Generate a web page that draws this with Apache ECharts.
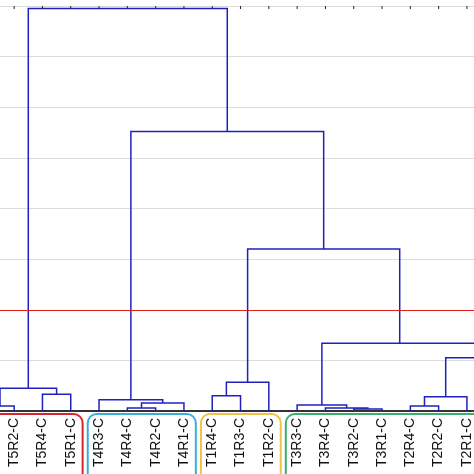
<!DOCTYPE html>
<html><head><meta charset="utf-8">
<script src="https://cdn.jsdelivr.net/npm/echarts@6/dist/echarts.min.js"></script>
<style>html,body{margin:0;padding:0;background:#fff}#c{width:474px;height:474px}</style>
</head><body><div id="c"></div>
<script>
// leaf names; leaf i sits at x = i - 1
const leafNames = ["T5R3-C","T5R2-C","T5R4-C","T5R1-C","T4R3-C","T4R4-C","T4R2-C","T4R1-C","T1R4-C","T1R3-C","T1R2-C","T3R3-C","T3R4-C","T3R2-C","T3R1-C","T2R4-C","T2R2-C","T2R1-C","T2R3-C","T2R5-C"];
// merges: [childA, childB, height]; 'L'+i leaf, 'N'+j merge
const merges = [
  ["L0","L1",0.10],["L2","L3",0.33],["N0","N1",0.45],
  ["L5","L6",0.06],["N3","L7",0.16],["L4","N4",0.22],
  ["L8","L9",0.30],["N6","L10",0.57],
  ["L13","L14",0.04],["L12","N8",0.06],["L11","N9",0.12],
  ["L15","L16",0.10],["N11","L17",0.28],["L18","L19",0.20],
  ["N12","N13",1.05],["N10","N14",1.34],["N7","N15",3.20],
  ["N5","N16",5.52],["N2","N17",7.95]
];
const groups = [[0,3,0],[4,7,1],[8,10,2],[11,19,3]];
const groupColors = ["#d7262b","#3aaed8","#eec24a","#3cae6e"];
const cutHeight = 2;

const pos = {}, hgt = {};
leafNames.forEach((n,i)=>{pos['L'+i]=i-1;hgt['L'+i]=0;});
const linkData = merges.map((m,j)=>{
  const a=m[0],b=m[1];
  pos['N'+j]=(pos[a]+pos[b])/2; hgt['N'+j]=m[2];
  return [pos[a],hgt[a],pos[b],hgt[b],m[2]];
});
const leafData = leafNames.map((n,i)=>[i-1,i]);
const tickData = [];
for(let i=0;i<=16;i++) tickData.push([i]);

const chart = echarts.init(document.getElementById('c'));
chart.setOption({
  animation:false,
  grid:{left:0,right:0,top:6,bottom:63},
  xAxis:[
    {type:'value',min:-0.5,max:16.25,position:'top',axisLine:{lineStyle:{color:'#222',width:1.5}},axisTick:{show:false},axisLabel:{show:false},splitLine:{show:false}},
    {type:'value',min:-0.5,max:16.25,position:'bottom',axisLine:{lineStyle:{color:'#333',width:2}},axisTick:{show:false},axisLabel:{show:false},splitLine:{show:false}}
  ],
  yAxis:{type:'value',min:0,max:8,interval:1,axisLine:{show:false},axisTick:{show:false},axisLabel:{show:false},
    splitLine:{lineStyle:{color:'#dcdcdc',type:'solid'}}},
  series:[
    {type:'custom',clip:true,data:linkData,z:3,
     renderItem:(p,api)=>{
       const a=api.coord([api.value(0),api.value(1)]),a2=api.coord([api.value(0),api.value(4)]);
       const b2=api.coord([api.value(2),api.value(4)]),b=api.coord([api.value(2),api.value(3)]);
       return {type:'polyline',shape:{points:[a,a2,b2,b]},style:{stroke:'#2020c0',lineWidth:1.5,fill:null}};
     },
     markLine:{silent:true,symbol:'none',label:{show:false},lineStyle:{color:'#e02020',width:1,type:'solid'},data:[{yAxis:cutHeight}]}},
    {type:'custom',clip:false,data:tickData,z:4,
     renderItem:(p,api)=>{const c=api.coord([api.value(0),8]);
       return {type:'line',shape:{x1:c[0],y1:c[1],x2:c[0],y2:c[1]+3},style:{stroke:'#222',lineWidth:1}};}},
    {type:'custom',clip:false,data:leafData,z:4,
     renderItem:(p,api)=>{const c=api.coord([api.value(0),0]);
       return {type:'text',x:c[0],y:c[1]+7,rotation:Math.PI/2,
         style:{text:leafNames[api.value(1)],fill:'#111',font:'14px Arial, "Liberation Sans", sans-serif',align:'right',verticalAlign:'middle'}};}},
    {type:'custom',clip:false,data:groups,z:2,
     renderItem:(p,api)=>{const l=api.coord([api.value(0)-1-0.4,0]),r=api.coord([api.value(1)-1+0.42,0]);
       return {type:'rect',shape:{x:l[0],y:l[1]+3,width:r[0]-l[0],height:80,r:9},
         style:{stroke:groupColors[api.value(2)],lineWidth:2,fill:null}};}}
  ]
});
</script></body></html>
